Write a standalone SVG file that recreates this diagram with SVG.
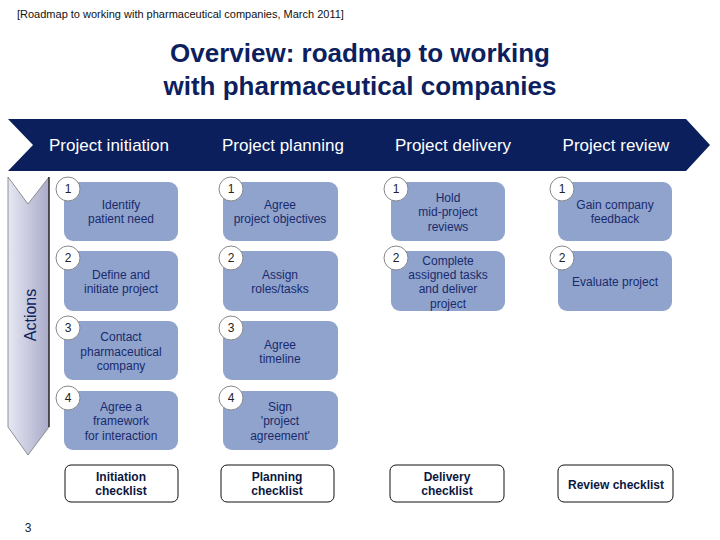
<svg xmlns="http://www.w3.org/2000/svg" width="720" height="540" viewBox="0 0 720 540">
<defs>
<linearGradient id="vg" x1="0" x2="1" y1="0" y2="0"><stop offset="0" stop-color="#e6e8f4"/><stop offset="1" stop-color="#a9aac8"/></linearGradient>
</defs>
<style>
text{font-family:"Liberation Sans",Arial,sans-serif}
.box{fill:#8fa3cd}
.bt{fill:#1a2a6c;font-size:12px;text-anchor:middle}
.num{fill:#fff;stroke:#888;stroke-width:1}
.nt{fill:#222;font-size:12px;text-anchor:middle}
.ph{fill:#fff;font-size:17px;text-anchor:middle}
.ck{fill:#fff;stroke:#111;stroke-width:1}
.ct{fill:#0a1740;font-size:12px;font-weight:bold;text-anchor:middle}
</style>
<rect width="720" height="540" fill="#fff"/>
<text x="17" y="18" font-size="11" fill="#111">[Roadmap to working with pharmaceutical companies, March 2011]</text>
<text x="360" y="62" font-size="26" font-weight="bold" fill="#0d1f5e" text-anchor="middle">Overview: roadmap to working</text>
<text x="360" y="95" font-size="26" font-weight="bold" fill="#0d1f5e" text-anchor="middle">with pharmaceutical companies</text>
<g id="band">
<polygon points="8,119 686,119 710,145 686,171 8,171 33,145" fill="#0a1f5c"/>
<text class="ph" x="109" y="151">Project initiation</text>
<text class="ph" x="283" y="151">Project planning</text>
<text class="ph" x="453" y="151">Project delivery</text>
<text class="ph" x="616" y="151">Project review</text>
</g>
<g id="actions">
<polygon points="8,177 28,204 49,177 49,427 28,455 8,427" fill="url(#vg)" stroke="#777" stroke-width="0.8"/>
<line x1="49" y1="177" x2="49" y2="427" stroke="#111" stroke-width="1.2"/>
<text transform="translate(36,315) rotate(-90)" font-size="16" fill="#0d1f5e" text-anchor="middle">Actions</text>
</g>
<g id="connectors"/>
<g id="c1">
<rect class="box" x="64" y="182" width="114" height="59" rx="9"/><circle class="num" cx="68" cy="189" r="12"/><text class="nt" x="68" y="193">1</text>
<text class="bt" x="121" y="209">Identify</text><text class="bt" x="121" y="223">patient need</text>
<rect class="box" x="64" y="251" width="114" height="60" rx="9"/><circle class="num" cx="68" cy="258" r="12"/><text class="nt" x="68" y="262">2</text>
<text class="bt" x="121" y="279">Define and</text><text class="bt" x="121" y="293">initiate project</text>
<rect class="box" x="64" y="321" width="114" height="59" rx="9"/><circle class="num" cx="68" cy="328" r="12"/><text class="nt" x="68" y="332">3</text>
<text class="bt" x="121" y="341">Contact</text><text class="bt" x="121" y="356">pharmaceutical</text><text class="bt" x="121" y="370">company</text>
<rect class="box" x="64" y="391" width="114" height="59" rx="9"/><circle class="num" cx="68" cy="398" r="12"/><text class="nt" x="68" y="402">4</text>
<text class="bt" x="121" y="411">Agree a</text><text class="bt" x="121" y="425">framework</text><text class="bt" x="121" y="440">for interaction</text>
<rect class="ck" x="65" y="465" width="113" height="37" rx="6"/><text class="ct" x="121" y="481">Initiation</text><text class="ct" x="121" y="495">checklist</text>
</g>
<g id="c2">
<rect class="box" x="223" y="182" width="115" height="59" rx="9"/><circle class="num" cx="231" cy="189" r="12"/><text class="nt" x="231" y="193">1</text>
<text class="bt" x="280" y="209">Agree</text><text class="bt" x="280" y="223">project objectives</text>
<rect class="box" x="223" y="251" width="115" height="60" rx="9"/><circle class="num" cx="231" cy="258" r="12"/><text class="nt" x="231" y="262">2</text>
<text class="bt" x="280" y="279">Assign</text><text class="bt" x="280" y="293">roles/tasks</text>
<rect class="box" x="223" y="321" width="115" height="59" rx="9"/><circle class="num" cx="231" cy="328" r="12"/><text class="nt" x="231" y="332">3</text>
<text class="bt" x="280" y="349">Agree</text><text class="bt" x="280" y="363">timeline</text>
<rect class="box" x="223" y="391" width="115" height="59" rx="9"/><circle class="num" cx="231" cy="398" r="12"/><text class="nt" x="231" y="402">4</text>
<text class="bt" x="280" y="411">Sign</text><text class="bt" x="280" y="425">'project</text><text class="bt" x="280" y="440">agreement'</text>
<rect class="ck" x="221" y="465" width="113" height="37" rx="6"/><text class="ct" x="277" y="481">Planning</text><text class="ct" x="277" y="495">checklist</text>
</g>
<g id="c3">
<rect class="box" x="391" y="182" width="114" height="59" rx="9"/><circle class="num" cx="396" cy="189" r="12"/><text class="nt" x="396" y="193">1</text>
<text class="bt" x="448" y="202">Hold</text><text class="bt" x="448" y="216">mid-project</text><text class="bt" x="448" y="231">reviews</text>
<rect class="box" x="391" y="251" width="114" height="60" rx="9"/><circle class="num" cx="396" cy="258" r="12"/><text class="nt" x="396" y="262">2</text>
<text class="bt" x="448" y="265">Complete</text><text class="bt" x="448" y="279">assigned tasks</text><text class="bt" x="448" y="293">and deliver</text><text class="bt" x="448" y="308">project</text>
<rect class="ck" x="390" y="465" width="114" height="37" rx="6"/><text class="ct" x="447" y="481">Delivery</text><text class="ct" x="447" y="495">checklist</text>
</g>
<g id="c4">
<rect class="box" x="558" y="182" width="114" height="59" rx="9"/><circle class="num" cx="562" cy="189" r="12"/><text class="nt" x="562" y="193">1</text>
<text class="bt" x="615" y="209">Gain company</text><text class="bt" x="615" y="223">feedback</text>
<rect class="box" x="558" y="251" width="114" height="60" rx="9"/><circle class="num" cx="562" cy="258" r="12"/><text class="nt" x="562" y="262">2</text>
<text class="bt" x="615" y="286">Evaluate project</text>
<rect class="ck" x="558" y="465" width="115" height="37" rx="6"/><text class="ct" x="616" y="489">Review checklist</text>
</g>
<text x="28" y="532" font-size="12" fill="#222" text-anchor="middle">3</text>
</svg>
